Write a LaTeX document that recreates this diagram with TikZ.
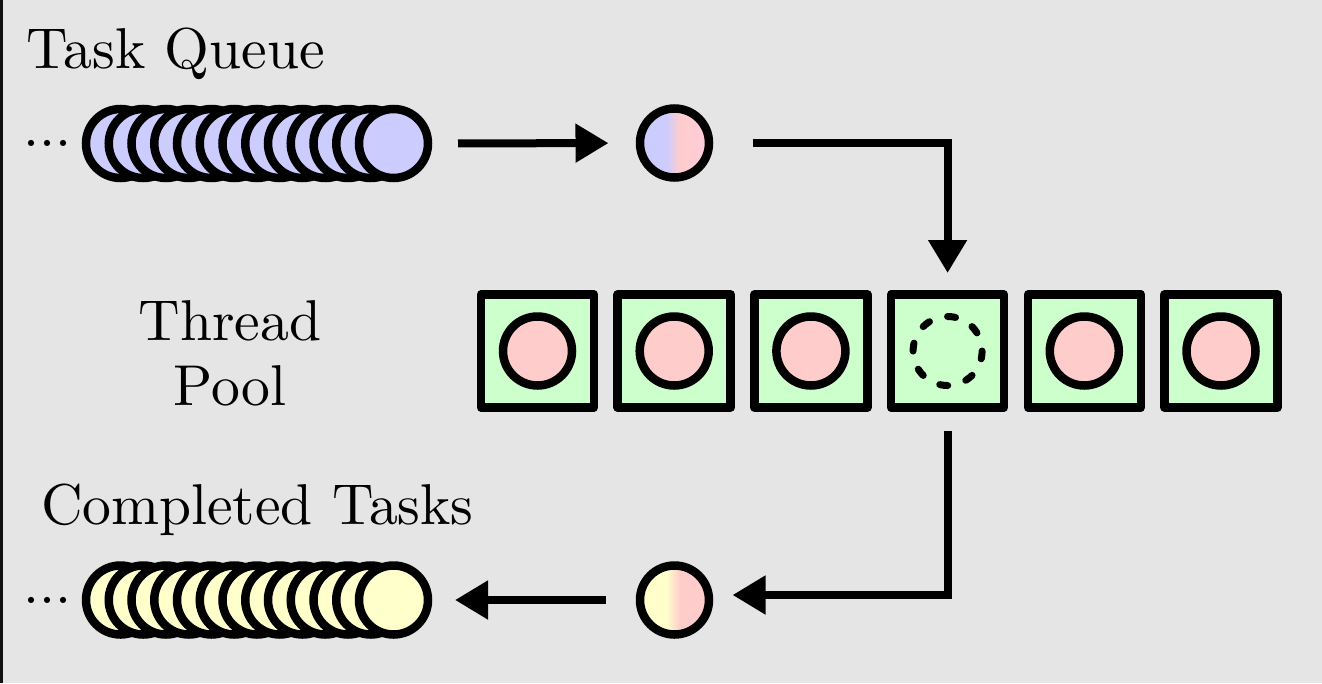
\documentclass[tikz,border=0pt]{standalone}
\usepackage{fontspec}
\setmainfont{lmroman10-regular}[Extension=.otf]
\usetikzlibrary{arrows.meta}
\definecolor{bg}{HTML}{E5E5E5}
\definecolor{edgec}{HTML}{111111}
\definecolor{qblue}{HTML}{CCCCFF}
\definecolor{tpink}{HTML}{FFCCCC}
\definecolor{mpink}{HTML}{FFCCDD}
\definecolor{tgreen}{HTML}{CCFFCC}
\definecolor{dyellow}{HTML}{FFFFCC}
\pgfdeclarehorizontalshading{bluepink}{100bp}{color(0bp)=(qblue); color(44bp)=(qblue); color(54bp)=(tpink); color(75bp)=(mpink); color(100bp)=(mpink)}
\pgfdeclarehorizontalshading{yellowpink}{100bp}{color(0bp)=(dyellow); color(44bp)=(dyellow); color(54bp)=(tpink); color(100bp)=(tpink)}
\begin{document}
\begin{tikzpicture}[x=1pt,y=-1pt,
  lbl/.style={inner sep=0pt, outer sep=0pt, font=\fontsize{57.6}{65}\selectfont},
  ball/.style={circle, draw, line width=8.5pt, minimum size=69pt, inner sep=0pt, outer sep=0pt},
  qball/.style={ball, fill=qblue},
  dball/.style={ball, fill=dyellow},
  tball/.style={ball, fill=tpink},
  slot/.style={draw, line width=8.5pt, line join=round, fill=tgreen, minimum size=113pt, inner sep=0pt, outer sep=0pt},
  flow/.style={line width=8pt, -{Triangle[length=33pt,width=37pt]}},
]
\fill[bg] (0,0) rectangle (1322,683);
\fill[edgec] (0,0) rectangle (3,683);

% task queue
\node[lbl, anchor=base west] (tq) at (27,68) {Task Queue};
\node[lbl, anchor=base west] (qdots) at (23.5,146.5) {...};
\foreach \i in {0,...,12} \node[qball] (q\i) at ({120.5+22.75*\i},143.5) {};
\node[ball, shade, shading=bluepink] (mt) at (674.5,143) {};

% thread pool
\node[lbl, align=center] (tp) at (230,353.4) {Thread\\Pool};
\foreach \i in {1,...,6} \node[slot] (b\i) at ({537.5+136.7*(\i-1)},351) {};
\foreach \i in {1,2,3,5,6} \node[tball] (c\i) at (b\i) {};
\node[ball, line width=7pt, dash pattern=on 8pt off 19.1pt, dash phase=8pt, line cap=round] (c4) at (b4) {};

% completed tasks
\node[lbl, anchor=base west] (ct) at (41,524) {Completed Tasks};
\node[lbl, anchor=base west] (ddots) at (23.5,603) {...};
\foreach \i in {0,...,12} \node[dball] (d\i) at ({120.5+22.75*\i},600) {};
\node[ball, shade, shading=yellowpink] (mb) at (674.5,600) {};

% connectors
\draw[flow, shorten <=30pt, shorten >=31.5pt] (q12) -- (mt);
\draw[flow, shorten <=43.5pt, shorten >=21.5pt] (mt) -| (b4);
\draw[flow, shorten <=23.5pt, shorten >=23.5pt] (b4) |- ([yshift=5pt]mb.east);
\draw[flow, shorten <=34.5pt, shorten >=27pt] (mb) -- (d12);
\end{tikzpicture}
\end{document}
